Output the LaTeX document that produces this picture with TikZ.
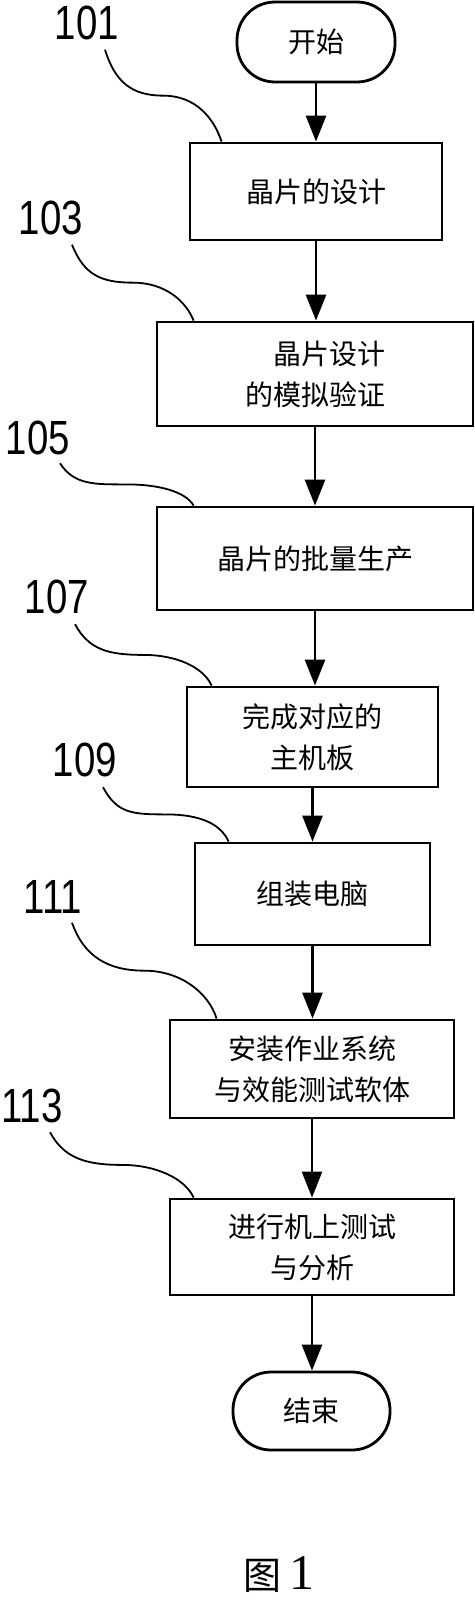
\documentclass[tikz,border=0pt]{standalone}
\usepackage{fontspec}
\setmainfont{Liberation Sans}
\newfontfamily\cjk{Noto Sans CJK SC}
\newfontfamily\numfont[FakeStretch=0.8]{Liberation Sans}
\newfontfamily\capfont{Liberation Serif}
\usetikzlibrary{arrows.meta,calc}

\tikzset{
	stepbox/.style={draw, line width=2.8pt, inner sep=0pt, align=center, font=\cjk\fontsize{28}{41}\selectfont},
	ends/.style={stepbox, rounded corners=38pt},
	num/.style={inner sep=0pt, font=\numfont\fontsize{48}{48}\selectfont},
	flow/.style={line width=2.8pt, -{Triangle[length=26pt,width=20pt]}},
	leader/.style={line width=1.8pt}
}

\begin{document}
\begin{tikzpicture}[x=1pt,y=-1pt]
			\useasboundingbox (0,0) rectangle (474,1601);
			% steps
			\node[ends, minimum width=158pt, minimum height=80pt] (start) at (316,42) {开始};
			\node[stepbox, minimum width=252pt, minimum height=97pt] (design) at (316,191.5) {晶片的设计};
			\node[stepbox, minimum width=316pt, minimum height=104pt, align=right] (verify) at (315,374) {晶片设计\\的模拟验证};
			\node[stepbox, minimum width=316pt, minimum height=103pt] (produce) at (315,558.5) {晶片的批量生产};
			\node[stepbox, minimum width=251pt, minimum height=100pt] (board) at (312.5,737) {完成对应的\\主机板};
			\node[stepbox, minimum width=235pt, minimum height=102pt] (assemble) at (312.5,894) {组装电脑};
			\node[stepbox, minimum width=284pt, minimum height=98pt] (install) at (312,1069) {安装作业系统\\与效能测试软体};
			\node[stepbox, minimum width=284pt, minimum height=96pt] (test) at (312,1247) {进行机上测试\\与分析};
			\node[ends, minimum width=157pt, minimum height=78pt] (stop) at (311.5,1411) {结束};
			% arrows
			\draw[flow] (start.south) -- (start.south |- design.north);
			\draw[flow] (design.south) -- (design.south |- verify.north);
			\draw[flow] (verify.south) -- (verify.south |- produce.north);
			\draw[flow] (produce.south) -- (produce.south |- board.north);
			\draw[flow] (board.south) -- (board.south |- assemble.north);
			\draw[flow] (assemble.south) -- (assemble.south |- install.north);
			\draw[flow] (install.south) -- (install.south |- test.north);
			\draw[flow] (test.south) -- (test.south |- stop.north);
			% reference numbers
			\node[num] (l101) at (87,22.5) {101};
			\node[num] (l103) at (51,217.5) {103};
			\node[num] (l105) at (38,438) {105};
			\node[num] (l107) at (57,597) {107};
			\node[num] (l109) at (85,760) {109};
			\node[num] (l111) at (53,897) {111};
			\node[num] (l113) at (32,1106) {113};
			\coordinate (e101) at ([xshift=33pt]design.north west);
			\coordinate (e103) at ([xshift=38pt]verify.north west);
			\coordinate (e105) at ([xshift=38pt]produce.north west);
			\coordinate (e107) at ([xshift=26pt]board.north west);
			\coordinate (e109) at ([xshift=35pt]assemble.north west);
			\coordinate (e111) at ([xshift=48pt]install.north west);
			\coordinate (e113) at ([xshift=25pt]test.north west);
			\draw[leader] ([shift={(18,10)}]l101.south) .. controls +(10,32) and +(-32,0) .. ($([shift={(18,10)}]l101.south)!.5!(e101)$) .. controls +(32,0) and +(-8,-24) .. (e101);
			\draw[leader] ([shift={(21,10)}]l103.south) .. controls +(12,30) and +(-32,0) .. ($([shift={(21,10)}]l103.south)!.5!(e103)$) .. controls +(32,0) and +(-8,-20) .. (e103);
			\draw[leader] ([shift={(22,8)}]l105.south) .. controls +(14,22) and +(-32,0) .. ($([shift={(22,8)}]l105.south)!.5!(e105)$) .. controls +(32,0) and +(-8,-14) .. (e105);
			\draw[leader] ([shift={(18,10)}]l107.south) .. controls +(14,26) and +(-34,0) .. ($([shift={(18,10)}]l107.south)!.5!(e107)$) .. controls +(34,0) and +(-8,-18) .. (e107);
			\draw[leader] ([shift={(18,10)}]l109.south) .. controls +(14,26) and +(-34,0) .. ($([shift={(18,10)}]l109.south)!.5!(e109)$) .. controls +(34,0) and +(-8,-18) .. (e109);
			\draw[leader] ([shift={(19,9)}]l111.south) .. controls +(12,34) and +(-36,0) .. ($([shift={(19,9)}]l111.south)!.5!(e111)$) .. controls +(36,0) and +(-8,-26) .. (e111);
			\draw[leader] ([shift={(18,9)}]l113.south) .. controls +(14,26) and +(-36,0) .. ($([shift={(18,9)}]l113.south)!.5!(e113)$) .. controls +(36,0) and +(-8,-18) .. (e113);
			% caption
			\node[anchor=base west, inner sep=0pt, font=\cjk\fontsize{38}{38}\selectfont] (fig) at (243,1589) {图 {\capfont\fontsize{50}{50}\selectfont 1}};
		\end{tikzpicture}
\end{document}
